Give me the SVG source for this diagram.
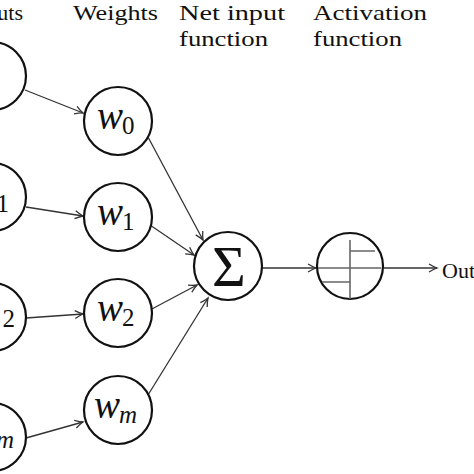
<svg xmlns="http://www.w3.org/2000/svg" width="474" height="474" viewBox="0 0 474 474">
<style>
.node{fill:#fff;stroke:#111;stroke-width:2.2}
.conn{stroke:#333;stroke-width:1.3;fill:none;marker-end:url(#ah)}
.hdr{font-family:"Liberation Serif","Times New Roman",serif;font-size:22px;fill:#111}
.mi{font-family:"Liberation Serif","Times New Roman",serif;font-style:italic;font-size:39px;fill:#111}
.sub{font-family:"Liberation Serif","Times New Roman",serif;font-size:25px;fill:#111}
.subi{font-family:"Liberation Serif","Times New Roman",serif;font-style:italic;font-size:25px;fill:#111}
.step{stroke:#666;stroke-width:1.6;fill:none}
</style>
<defs>
<marker id="ah" markerUnits="userSpaceOnUse" markerWidth="14" markerHeight="14" refX="0" refY="0" viewBox="-10 -7 12 14" orient="auto">
<path d="M-8,-4 Q-3,-1 0,0 Q-3,1 -8,4" fill="none" stroke="#333" stroke-width="1.3"/>
</marker>
</defs>
<rect width="474" height="474" fill="#fff"/>
<g id="headers">
<text class="hdr" x="23" y="20" text-anchor="end">Inputs</text>
<text class="hdr" x="73" y="20" textLength="85" lengthAdjust="spacingAndGlyphs">Weights</text>
<text class="hdr" x="179" y="20" textLength="106" lengthAdjust="spacingAndGlyphs">Net input</text>
<text class="hdr" x="179" y="46" textLength="89" lengthAdjust="spacingAndGlyphs">function</text>
<text class="hdr" x="313" y="20" textLength="114" lengthAdjust="spacingAndGlyphs">Activation</text>
<text class="hdr" x="313" y="46" textLength="89" lengthAdjust="spacingAndGlyphs">function</text>
</g>
<g id="connectors">
<line class="conn" x1="25" y1="90" x2="83" y2="113"/>
<line class="conn" x1="26" y1="207" x2="83" y2="216"/>
<line class="conn" x1="26" y1="318" x2="83" y2="314"/>
<line class="conn" x1="26" y1="438" x2="83" y2="422"/>
<line class="conn" x1="148" y1="137" x2="203" y2="240"/>
<line class="conn" x1="150" y1="225" x2="194" y2="255"/>
<line class="conn" x1="150" y1="310" x2="197" y2="285"/>
<line class="conn" x1="148" y1="395" x2="208" y2="298"/>
<line class="conn" x1="262" y1="268" x2="316" y2="268"/>
<line class="conn" x1="384" y1="268" x2="437" y2="268"/>
</g>
<g id="x0"><circle class="node" cx="-8" cy="76" r="34"/></g>
<g id="x1"><circle class="node" cx="-8" cy="197" r="34"/><text class="sub" x="9" y="212" text-anchor="end">1</text></g>
<g id="x2"><circle class="node" cx="-8" cy="317" r="34"/><text class="sub" x="15" y="327" text-anchor="end">2</text></g>
<g id="xm"><circle class="node" cx="-8" cy="437" r="34"/><text class="subi" x="14" y="448" text-anchor="end">m</text></g>
<g id="w0"><circle class="node" cx="118" cy="121" r="34"/><text class="mi" x="97" y="129">w</text><text class="sub" x="122" y="134">0</text></g>
<g id="w1"><circle class="node" cx="118" cy="217" r="34"/><text class="mi" x="97" y="225">w</text><text class="sub" x="122" y="230">1</text></g>
<g id="w2"><circle class="node" cx="118" cy="313" r="34"/><text class="mi" x="97" y="321">w</text><text class="sub" x="122" y="326">2</text></g>
<g id="wm"><circle class="node" cx="118" cy="410" r="34"/><text class="mi" x="94" y="418">w</text><text class="subi" x="119" y="423">m</text></g>
<g id="sum"><circle class="node" cx="228" cy="266" r="34"/><text x="229" y="286" text-anchor="middle" style="font-family:'Liberation Serif','Times New Roman',serif;font-size:58px;fill:#111">Σ</text></g>
<g id="activation"><circle class="node" cx="350" cy="266" r="33"/>
<path class="step" d="M318,268 H381 M350,240 V299 M350,251 H375 M322,282 H350"/></g>
<g id="output"><text class="hdr" x="442" y="278">Output</text></g>
</svg>
